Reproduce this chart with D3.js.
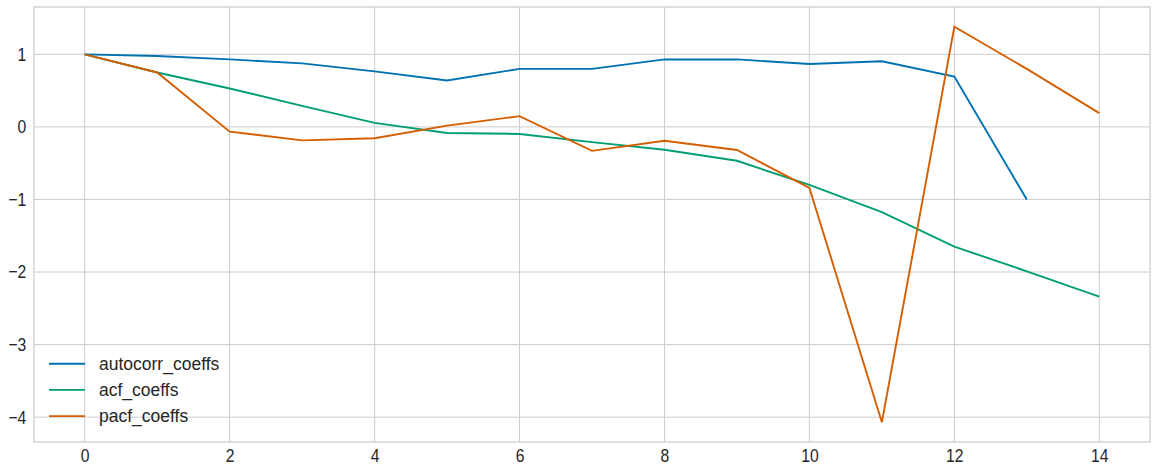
<!DOCTYPE html>
<html>
<head>
<meta charset="utf-8">
<script src="https://cdn.jsdelivr.net/npm/d3@7"></script>
<style>
  body { margin: 0; background: #fff; }
  text { font-family: "Liberation Sans", Arial, sans-serif; }
</style>
</head>
<body>
<svg id="svg" width="1157" height="473"></svg>
<script>
const WIDTH = 1157
const HEIGHT = 473
const MARGIN = { top: 7, right: 7, bottom: 31, left: 34 }

// lag index for each series
const lags = [0, 1, 2, 3, 4, 5, 6, 7, 8, 9, 10, 11, 12, 13, 14]
const autocorrCoeffs = [1.0, 0.977, 0.93, 0.875, 0.765, 0.64, 0.80, 0.80, 0.93, 0.93, 0.866, 0.905, 0.695, -1.0]
const acfCoeffs = [1.0, 0.75, 0.53, 0.29, 0.055, -0.083, -0.097, -0.21, -0.314, -0.467, -0.80, -1.175, -1.65, -1.99, -2.34]
const pacfCoeffs = [1.0, 0.75, -0.065, -0.185, -0.157, 0.018, 0.148, -0.33, -0.19, -0.318, -0.84, -4.07, 1.38, 0.80, 0.19]
const seriesNames = ['autocorr_coeffs', 'acf_coeffs', 'pacf_coeffs']
const xTicks = [0, 2, 4, 6, 8, 10, 12, 14]
const yTicks = [-4, -3, -2, -1, 0, 1]

const series = [autocorrCoeffs, acfCoeffs, pacfCoeffs].map((vals, i) => ({
  name: seriesNames[i],
  values: vals.map((v, j) => ({ x: lags[j], y: v }))
}))

const color = d3.scaleOrdinal()
  .domain(seriesNames)
  .range(['#0072B2', '#009E73', '#D55E00'])

// matplotlib-style 5% padding
const xExt = d3.extent(lags)
const allY = [...autocorrCoeffs, ...acfCoeffs, ...pacfCoeffs]
const yExt = d3.extent(allY)
const xPad = (xExt[1] - xExt[0]) * 0.05
const yPad = (yExt[1] - yExt[0]) * 0.05

const x = d3.scaleLinear()
  .domain([xExt[0] - xPad, xExt[1] + xPad])
  .range([MARGIN.left, WIDTH - MARGIN.right])

const y = d3.scaleLinear()
  .domain([yExt[0] - yPad, yExt[1] + yPad])
  .range([HEIGHT - MARGIN.bottom, MARGIN.top])

const SVG = d3.select('#svg')

// grid
SVG.append('g')
  .selectAll('line')
  .data(xTicks)
  .enter()
  .append('line')
  .attr('x1', d => x(d)).attr('x2', d => x(d))
  .attr('y1', MARGIN.top).attr('y2', HEIGHT - MARGIN.bottom)
  .attr('stroke', '#cccccc')
  .attr('stroke-width', 1)

SVG.append('g')
  .selectAll('line')
  .data(yTicks)
  .enter()
  .append('line')
  .attr('x1', MARGIN.left).attr('x2', WIDTH - MARGIN.right)
  .attr('y1', d => y(d)).attr('y2', d => y(d))
  .attr('stroke', '#cccccc')
  .attr('stroke-width', 1)

// frame
SVG.append('rect')
  .attr('x', MARGIN.left)
  .attr('y', MARGIN.top)
  .attr('width', WIDTH - MARGIN.left - MARGIN.right)
  .attr('height', HEIGHT - MARGIN.top - MARGIN.bottom)
  .attr('fill', 'none')
  .attr('stroke', '#cccccc')
  .attr('stroke-width', 1.25)

// axes (labels only, whitegrid style has no tick marks)
const fmt = d => d < 0 ? '\u2212' + Math.abs(d) : String(d)

const X_AXIS = SVG.append('g')
  .attr('transform', `translate(0, ${HEIGHT - MARGIN.bottom})`)
  .call(d3.axisBottom(x).tickValues(xTicks).tickFormat(fmt).tickSize(0).tickPadding(7))
X_AXIS.select('.domain').remove()

const Y_AXIS = SVG.append('g')
  .attr('transform', `translate(${MARGIN.left}, 0)`)
  .call(d3.axisLeft(y).tickValues(yTicks).tickFormat(fmt).tickSize(0).tickPadding(9))
Y_AXIS.select('.domain').remove()

// tick font in the picture is a bit narrower than Liberation Sans
SVG.selectAll('.tick text')
  .attr('font-family', '"Liberation Sans", Arial, sans-serif')
  .attr('font-size', 18.5)
  .attr('fill', '#262626')
  .attr('transform', 'scale(0.85, 1)')

// lines
const LINE_GEN = d3.line()
  .x(d => x(d.x))
  .y(d => y(d.y))

SVG.append('g')
  .selectAll('path')
  .data(series)
  .enter()
  .append('path')
  .attr('d', d => LINE_GEN(d.values))
  .attr('fill', 'none')
  .attr('stroke', d => color(d.name))
  .attr('stroke-width', 1.9)
  .attr('stroke-linejoin', 'miter')

// legend
const LEGEND = SVG.append('g')
  .attr('transform', 'translate(49, 363.7)')

LEGEND.selectAll('line')
  .data(seriesNames)
  .enter()
  .append('line')
  .attr('x1', 0).attr('x2', 36)
  .attr('y1', (d, i) => i * 26.2).attr('y2', (d, i) => i * 26.2)
  .attr('stroke', d => color(d))
  .attr('stroke-width', 1.9)

LEGEND.selectAll('text')
  .data(seriesNames)
  .enter()
  .append('text')
  .text(d => d)
  .attr('x', 50)
  .attr('y', (d, i) => i * 26.2 + 6.3)
  .attr('font-size', 17.5)
  .attr('fill', '#262626')
</script>
</body>
</html>
